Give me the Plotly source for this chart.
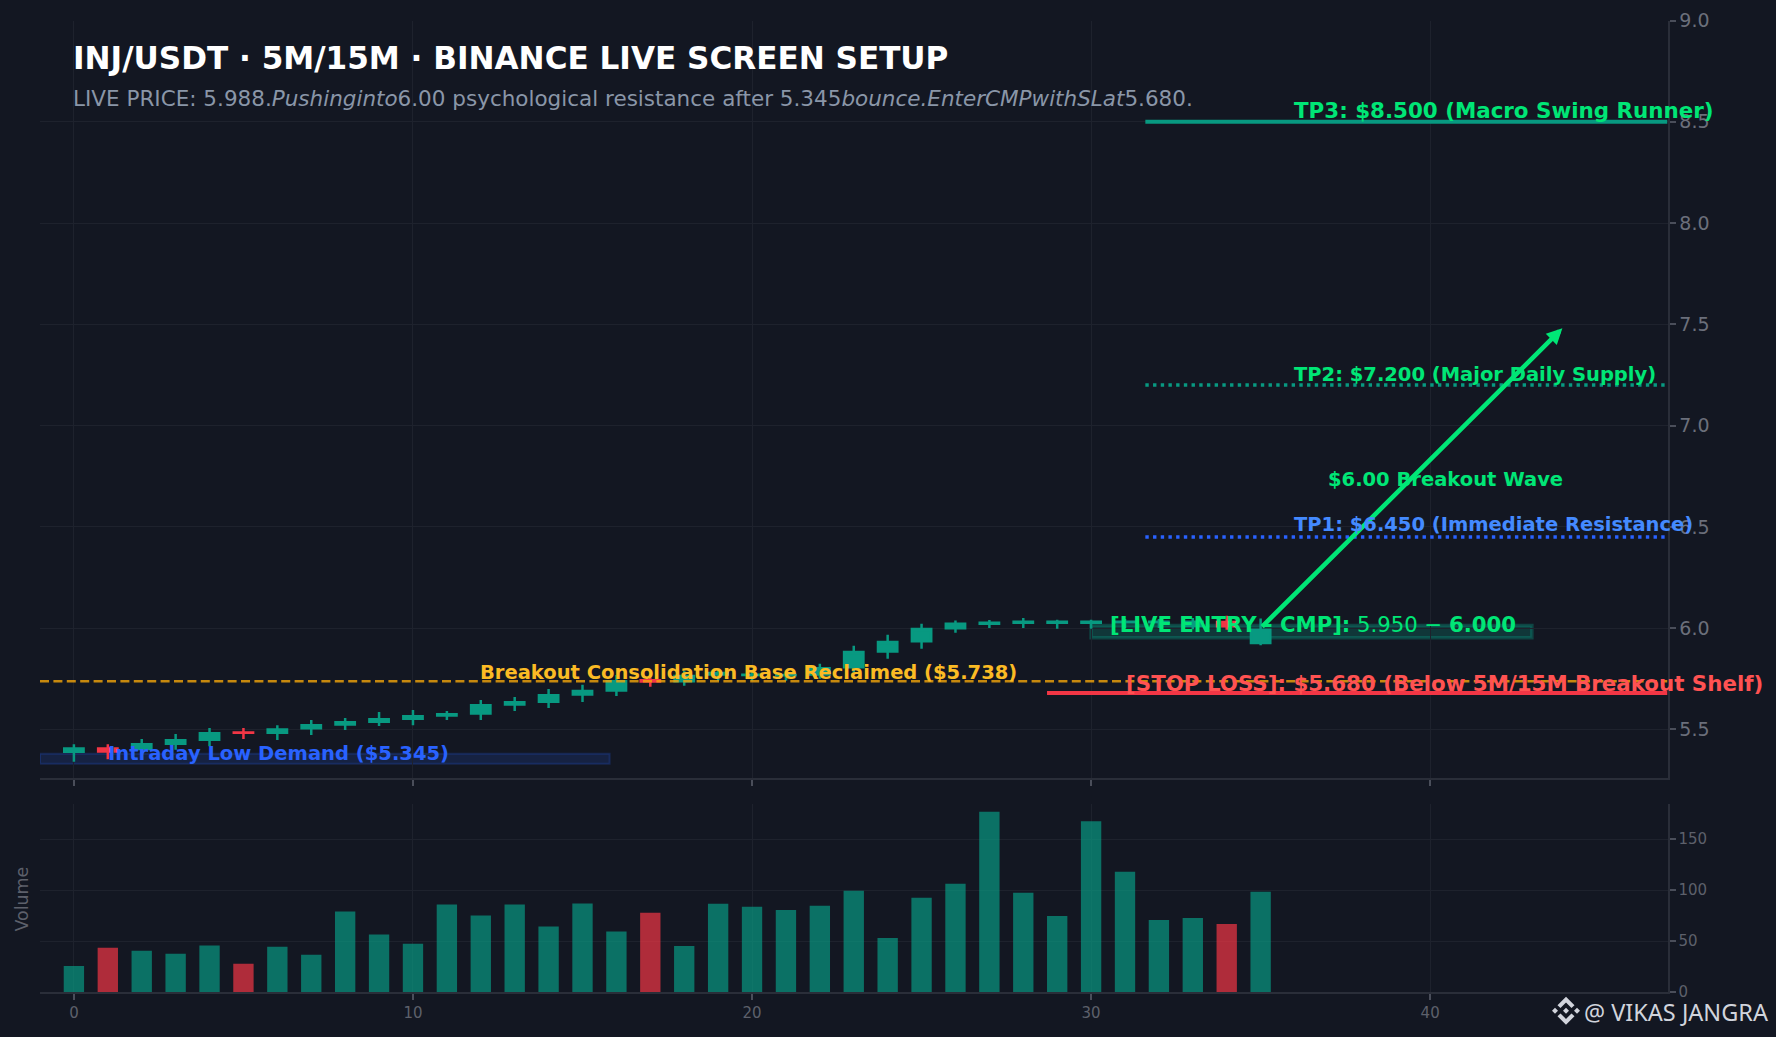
import plotly.graph_objects as go

index = list(range(36))
open_ = [5.389,5.406,5.403,5.429,5.449,5.485,5.484,5.505,5.524,5.538,5.553,5.568,5.578,5.623,5.637,5.672,5.692,5.743,5.738,5.771,5.768,5.767,5.771,5.807,5.885,5.935,5.999,6.022,6.027,6.027,6.027,6.029,6.029,6.010,6.030,5.926]
high  = [5.427,5.427,5.452,5.477,5.507,5.507,5.521,5.546,5.556,5.586,5.596,5.591,5.645,5.660,5.700,5.720,5.769,5.756,5.789,5.795,5.785,5.790,5.824,5.913,5.967,6.022,6.037,6.040,6.050,6.041,6.041,6.045,6.045,6.050,6.061,6.047]
low   = [5.340,5.353,5.380,5.400,5.417,5.452,5.447,5.472,5.497,5.517,5.521,5.546,5.546,5.591,5.606,5.635,5.665,5.710,5.715,5.740,5.740,5.740,5.750,5.780,5.849,5.898,5.977,6.000,6.000,5.997,5.997,6.000,6.000,5.995,5.992,5.915]
close = [5.406,5.391,5.426,5.446,5.481,5.483,5.499,5.520,5.535,5.550,5.565,5.575,5.619,5.634,5.669,5.689,5.738,5.737,5.763,5.778,5.770,5.769,5.802,5.882,5.932,5.996,6.021,6.026,6.031,6.031,6.031,6.031,6.031,6.031,6.009,5.992]
volume = [25.7,43.6,40.7,37.7,45.7,27.8,44.6,36.6,79.0,56.5,47.6,86.0,75.1,86.0,64.3,87.0,59.4,77.8,45.2,86.6,83.7,80.7,84.7,99.5,53.2,92.5,106.3,177.0,97.4,74.8,167.5,118.2,70.8,72.8,66.9,98.4]

x_ticks = [0, 10, 20, 30, 40]
price_ticks = [5.5, 6.0, 6.5, 7.0, 7.5, 8.0, 8.5, 9.0]
volume_ticks = [0, 50, 100, 150]

TP3, TP2, TP1, STOP, BASE = 8.5, 7.2, 6.45, 5.68, 5.738

BG = "#131722"; GRID = "#1e222d"; SPINE = "#2a2e39"; TICK = "#6b6f7b"
GREEN = "#089981"; RED = "#f23645"; NEON = "#00e676"; BLUE = "#2962ff"
W, H = 1776, 1037
M_T, M_B = 10, 9
FONT = "DejaVu Sans"

def py(p):
    """page pixel row -> paper fraction"""
    return 1 - (p - M_T) / (H - M_T - M_B)

fig = go.Figure()
fig.add_trace(go.Candlestick(
    x=index, open=open_, high=high, low=low, close=close, xaxis="x", yaxis="y",
    whiskerwidth=0,
    increasing=dict(line=dict(color=GREEN, width=2.5), fillcolor=GREEN),
    decreasing=dict(line=dict(color=RED, width=2.5), fillcolor=RED),
    showlegend=False))
bar_colors = ["rgba(242,54,69,0.7)" if c < o else "rgba(8,153,129,0.7)" for o, c in zip(open_, close)]
fig.add_trace(go.Bar(x=index, y=volume, width=0.6, marker=dict(color=bar_colors, line_width=0),
                     xaxis="x2", yaxis="y2", showlegend=False))

shapes = [
    dict(type="rect", x0=-1, x1=15.8, y0=5.33, y1=5.38, xref="x", yref="y", layer="below",
         fillcolor="rgba(41,98,255,0.15)", line=dict(color="rgba(41,98,255,0.2)", width=2)),
    dict(type="rect", x0=30, x1=43, y0=5.953, y1=6.013, xref="x", yref="y", layer="below",
         fillcolor="rgba(8,153,129,0.25)", line=dict(color="rgba(8,153,129,0.35)", width=3.5)),
    dict(type="line", x0=-1, x1=47, y0=BASE, y1=BASE, xref="x", yref="y",
         line=dict(color="rgba(245,166,10,0.8)", width=2.6, dash="9px,4.4px")),
    dict(type="line", x0=28.7, x1=47, y0=STOP, y1=STOP, xref="x", yref="y", line=dict(color=RED, width=4)),
    dict(type="line", x0=31.6, x1=47, y0=TP3, y1=TP3, xref="x", yref="y", line=dict(color=GREEN, width=4)),
    dict(type="line", x0=31.6, x1=47, y0=TP2, y1=TP2, xref="x", yref="y",
         line=dict(color=GREEN, width=3.4, dash="3.4px,4.3px")),
    dict(type="line", x0=31.6, x1=47, y0=TP1, y1=TP1, xref="x", yref="y",
         line=dict(color=BLUE, width=3.4, dash="3.4px,4.3px")),
]

def logo_path(points, cx=1566, cy=1010.7):
    pts = [((cx + a) / W, py(cy + b)) for a, b in points]
    return "M" + " L".join(f"{a:.5f},{b:.5f}" for a, b in pts) + " Z"

LOGO_PARTS = [
    [(0,-14),(8.5,-5.5),(5.5,-2.7),(0,-8.2),(-5.5,-2.7),(-8.5,-5.5)],
    [(0,14),(8.5,5.5),(5.5,2.7),(0,8.2),(-5.5,2.7),(-8.5,5.5)],
    [(0,-3),(3,0),(0,3),(-3,0)],
    [(-11,-3),(-8,0),(-11,3),(-14,0)],
    [(11,-3),(14,0),(11,3),(8,0)],
]
for part in LOGO_PARTS:
    shapes.append(dict(type="path", path=logo_path(part), xref="paper", yref="paper",
                       fillcolor="#d1d4dc", line_width=0))

def label(text, x, y, size, color, bold=True):
    return dict(text=f"<b>{text}</b>" if bold else text, x=x, y=y, xref="x", yref="y",
                xanchor="left", yanchor="middle", showarrow=False,
                font=dict(family=FONT, size=size, color=color))

annotations = [
    dict(x=43.9, y=7.48, ax=35, ay=6.0, axref="x", ayref="y", xref="x", yref="y", text="",
         showarrow=True, arrowhead=2, arrowsize=0.68, arrowwidth=4.6, arrowcolor=NEON, standoff=0),
    label("TP3: $8.500 (Macro Swing Runner)", 35.93, 8.556, 21.4, NEON),
    label("TP2: $7.200 (Major Daily Supply)", 35.93, 7.25, 19.5, NEON),
    label("TP1: $6.450 (Immediate Resistance)", 35.93, 6.512, 19.5, "#448aff"),
    label("$6.00 Breakout Wave", 36.93, 6.735, 19.5, NEON),
    label("<b>[LIVE ENTRY - CMP]:</b> 5.950 − <b>6.000</b>", 30.49, 6.017, 21.2, NEON, bold=False),
    label("[STOP LOSS]: $5.680 (Below 5M/15M Breakout Shelf)", 30.96, 5.726, 21.35, "#ff5252"),
    label("Breakout Consolidation Base Reclaimed ($5.738)", 11.93, 5.78, 19.5, "#fbbb24"),
    label("Intraday Low Demand ($5.345)", 0.95, 5.38, 19.55, BLUE),
    dict(text="<b>INJ/USDT · 5M/15M · BINANCE LIVE SCREEN SETUP</b>", x=70.5/W, y=py(58), xref="paper", yref="paper",
         xanchor="left", yanchor="middle", showarrow=False, font=dict(family=FONT, size=31.1, color="#ffffff")),
    dict(text="LIVE PRICE: 5.988.<i>Pushinginto</i>6.00 psychological resistance after 5.345<i>bounce.EnterCMPwithSLat</i>5.680.",
         x=70.5/W, y=py(98), xref="paper", yref="paper", xanchor="left", yanchor="middle", showarrow=False,
         font=dict(family=FONT, size=21.5, color="#8a96a8")),
    dict(text="Volume", x=21.5/W, y=py(899), xref="paper", yref="paper", xanchor="center", yanchor="middle",
         textangle=-90, showarrow=False, font=dict(family=FONT, size=17.4, color="#5d606b")),
    dict(text="@ VIKAS JANGRA", x=1582/W, y=py(1012), xref="paper", yref="paper", xanchor="left", yanchor="middle",
         showarrow=False, font=dict(family="Noto Sans", size=23.5, color="#d1d4dc")),
]

xdomain = [40/W, 1667.5/W]
common_x = dict(domain=xdomain, range=[-1, 47], tickmode="array", tickvals=x_ticks, showgrid=True, gridcolor=GRID,
                gridwidth=1, zeroline=False, showline=True, linecolor=SPINE, linewidth=2,
                ticks="outside", ticklen=6, tickwidth=2, tickcolor="#4a4e5a")
common_y = dict(side="right", tickmode="array", showgrid=True, gridcolor=GRID, gridwidth=1, zeroline=False,
                showline=True, linecolor=SPINE, linewidth=2,
                ticks="outside", ticklen=6, tickwidth=2, tickcolor="#4a4e5a")

fig.update_layout(
    width=W, height=H, autosize=False, margin=dict(l=0, r=0, t=M_T, b=M_B, pad=0),
    paper_bgcolor=BG, plot_bgcolor=BG, barmode="overlay", boxgap=0.43, boxgroupgap=0,
    showlegend=False, hovermode=False, shapes=shapes, annotations=annotations,
    xaxis=dict(**common_x, anchor="y", showticklabels=False, rangeslider=dict(visible=False)),
    xaxis2=dict(**common_x, anchor="y2", matches="x", showticklabels=True,
                tickfont=dict(family=FONT, size=15, color="#5d606b")),
    yaxis=dict(**common_y, domain=[py(778.4), py(20.5)], range=[5.258, 9.0], anchor="x", tickvals=price_ticks,
               tickformat=".1f", tickfont=dict(family=FONT, size=19, color=TICK)),
    yaxis2=dict(**common_y, domain=[py(992.2), py(803.5)], range=[0, 185], anchor="x2", tickvals=volume_ticks,
                tickfont=dict(family=FONT, size=15, color="#5d606b")),
)

fig.write_html("out.html", config={"displayModeBar": False},
               post_script="document.body.style.margin='0';document.body.style.background='#131722';document.body.style.overflow='hidden';")
